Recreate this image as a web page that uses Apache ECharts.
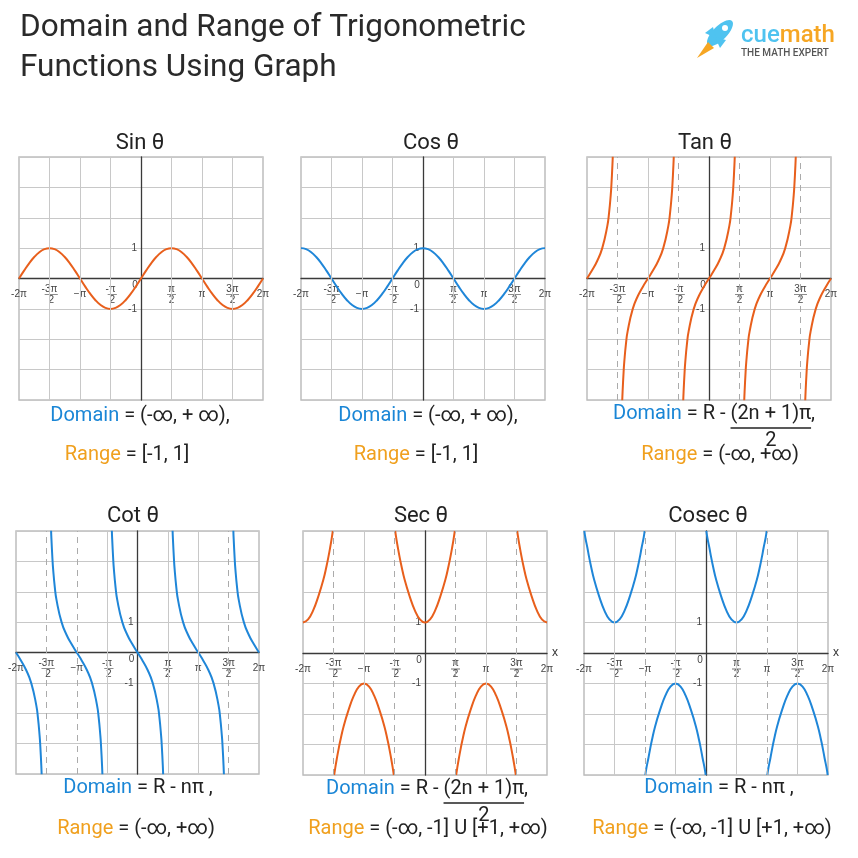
<!DOCTYPE html>
<html><head><meta charset="utf-8">
<script src="https://cdn.jsdelivr.net/npm/echarts@6/dist/echarts.min.js"></script>
<style>html,body{margin:0;padding:0;background:#fff}#c{width:858px;height:858px}</style>
</head><body><div id="c"></div><script>
// ---------- data ----------
const panelTitles = ['Sin θ', 'Cos θ', 'Tan θ', 'Cot θ', 'Sec θ', 'Cosec θ'];
const xTickValues = [-360, -270, -180, -90, 0, 90, 180, 270, 360];
const xTickLabels = ['-2π', '-3π/2', '−π', '-π/2', '0', 'π/2', 'π', '3π/2', '2π'];
const yTickValues = [1, -1];
const yTickLabels = ['1', '-1'];
const gridLineXs = [-270, -180, -90, 90, 180, 270];

const sinDashed = [];
const cosDashed = [];
const tanDashed = [-270, -90, 90, 270];
const cotDashed = [-270, -180, 270];
const secDashed = [-270, -90, 90, 270];
const cosecDashed = [-180, 180];

const angles = [-360,-345,-330,-315,-300,-285,-270,-255,-240,-225,-210,-195,-180,-165,-150,-135,-120,-105,-90,-75,-60,-45,-30,-15,0,15,30,45,60,75,90,105,120,135,150,165,180,195,210,225,240,255,270,285,300,315,330,345,360];
const sinValues = [0,0.259,0.5,0.707,0.866,0.966,1,0.966,0.866,0.707,0.5,0.259,0,-0.259,-0.5,-0.707,-0.866,-0.966,-1,-0.966,-0.866,-0.707,-0.5,-0.259,0,0.259,0.5,0.707,0.866,0.966,1,0.966,0.866,0.707,0.5,0.259,0,-0.259,-0.5,-0.707,-0.866,-0.966,-1,-0.966,-0.866,-0.707,-0.5,-0.259,0];
const cosValues = [1,0.966,0.866,0.707,0.5,0.259,0,-0.259,-0.5,-0.707,-0.866,-0.966,-1,-0.966,-0.866,-0.707,-0.5,-0.259,0,0.259,0.5,0.707,0.866,0.966,1,0.966,0.866,0.707,0.5,0.259,0,-0.259,-0.5,-0.707,-0.866,-0.966,-1,-0.966,-0.866,-0.707,-0.5,-0.259,0,0.259,0.5,0.707,0.866,0.966,1];

const tanX = [
  [-360,-345,-330,-315,-300,-295,-290,-288,-285,-284],
  [-256,-255,-252,-250,-245,-240,-225,-210,-195,-180,-165,-150,-135,-120,-115,-110,-108,-105,-104],
  [-76,-75,-72,-70,-65,-60,-45,-30,-15,0,15,30,45,60,65,70,72,75,76],
  [104,105,108,110,115,120,135,150,165,180,195,210,225,240,245,250,252,255,256],
  [284,285,288,290,295,300,315,330,345,360]
];
const tanY = [
  [0,0.268,0.577,1,1.732,2.145,2.747,3.078,3.732,4.011],
  [-4.011,-3.732,-3.078,-2.747,-2.145,-1.732,-1,-0.577,-0.268,0,0.268,0.577,1,1.732,2.145,2.747,3.078,3.732,4.011],
  [-4.011,-3.732,-3.078,-2.747,-2.145,-1.732,-1,-0.577,-0.268,0,0.268,0.577,1,1.732,2.145,2.747,3.078,3.732,4.011],
  [-4.011,-3.732,-3.078,-2.747,-2.145,-1.732,-1,-0.577,-0.268,0,0.268,0.577,1,1.732,2.145,2.747,3.078,3.732,4.011],
  [-4.011,-3.732,-3.078,-2.747,-2.145,-1.732,-1,-0.577,-0.268,0]
];
const cotX = [
  [-360,-345,-330,-315,-300,-295,-290,-288,-285,-284],
  [-256,-255,-252,-250,-245,-240,-225,-210,-195,-180,-165,-150,-135,-120,-115,-110,-108,-105,-104],
  [-76,-75,-72,-70,-65,-60,-45,-30,-15,0,15,30,45,60,65,70,72,75,76],
  [104,105,108,110,115,120,135,150,165,180,195,210,225,240,245,250,252,255,256],
  [284,285,288,290,295,300,315,330,345,360]
];
const cotY = [
  [0,-0.268,-0.577,-1,-1.732,-2.145,-2.747,-3.078,-3.732,-4.011],
  [4.011,3.732,3.078,2.747,2.145,1.732,1,0.577,0.268,0,-0.268,-0.577,-1,-1.732,-2.145,-2.747,-3.078,-3.732,-4.011],
  [4.011,3.732,3.078,2.747,2.145,1.732,1,0.577,0.268,0,-0.268,-0.577,-1,-1.732,-2.145,-2.747,-3.078,-3.732,-4.011],
  [4.011,3.732,3.078,2.747,2.145,1.732,1,0.577,0.268,0,-0.268,-0.577,-1,-1.732,-2.145,-2.747,-3.078,-3.732,-4.011],
  [4.011,3.732,3.078,2.747,2.145,1.732,1,0.577,0.268,0]
];
const secX = [
  [-360,-345,-330,-315,-300,-290,-285,-280,-275,-272],
  [-268,-265,-260,-255,-250,-240,-225,-210,-195,-180,-165,-150,-135,-120,-110,-105,-100,-95,-92],
  [-88,-85,-80,-75,-70,-60,-45,-30,-15,0,15,30,45,60,70,75,80,85,88],
  [92,95,100,105,110,120,135,150,165,180,195,210,225,240,250,255,260,265,268],
  [272,275,280,285,290,300,315,330,345,360]
];
const secY = [
  [1,1.1,1.4,1.85,2.4,2.88,3.15,3.45,3.78,4.0],
  [-4.0,-3.78,-3.45,-3.15,-2.88,-2.4,-1.85,-1.4,-1.1,-1,-1.1,-1.4,-1.85,-2.4,-2.88,-3.15,-3.45,-3.78,-4.0],
  [4.0,3.78,3.45,3.15,2.88,2.4,1.85,1.4,1.1,1,1.1,1.4,1.85,2.4,2.88,3.15,3.45,3.78,4.0],
  [-4.0,-3.78,-3.45,-3.15,-2.88,-2.4,-1.85,-1.4,-1.1,-1,-1.1,-1.4,-1.85,-2.4,-2.88,-3.15,-3.45,-3.78,-4.0],
  [4.0,3.78,3.45,3.15,2.88,2.4,1.85,1.4,1.1,1]
];
const cosecX = [
  [-359,-356,-350,-345,-340,-330,-315,-300,-285,-270,-255,-240,-225,-210,-200,-195,-190,-184,-181],
  [-179,-176,-170,-165,-160,-150,-135,-120,-105,-90,-75,-60,-45,-30,-20,-15,-10,-4,-1],
  [1,4,10,15,20,30,45,60,75,90,105,120,135,150,160,165,170,176,179],
  [181,184,190,195,200,210,225,240,255,270,285,300,315,330,340,345,350,356,359]
];
const cosecY = [
  [4.0,3.78,3.45,3.15,2.88,2.4,1.85,1.4,1.1,1,1.1,1.4,1.85,2.4,2.88,3.15,3.45,3.78,4.0],
  [-4.0,-3.78,-3.45,-3.15,-2.88,-2.4,-1.85,-1.4,-1.1,-1,-1.1,-1.4,-1.85,-2.4,-2.88,-3.15,-3.45,-3.78,-4.0],
  [4.0,3.78,3.45,3.15,2.88,2.4,1.85,1.4,1.1,1,1.1,1.4,1.85,2.4,2.88,3.15,3.45,3.78,4.0],
  [-4.0,-3.78,-3.45,-3.15,-2.88,-2.4,-1.85,-1.4,-1.1,-1,-1.1,-1.4,-1.85,-2.4,-2.88,-3.15,-3.45,-3.78,-4.0]
];

const domainPrefix = ['', '', 'R - ', 'R - nπ ,', 'R - ', 'R - nπ ,'];
const domainFrac = ['', '', '(2n + 1)π', '', '(2n + 1)π', ''];
const domainSuffix = ['(-∞, + ∞),', '(-∞, + ∞),', ',', '', ',', ''];
const rangeTexts = ['[-1, 1]', '[-1, 1]', '(-∞, +∞)', '(-∞, +∞)', '(-∞, -1] U [+1, +∞)', '(-∞, -1] U [+1, +∞)'];

// ---------- layout ----------
const ORANGE = '#e85f1c', BLUE = '#1f86d8';
const grids = [
  {left: 19, top: 157, width: 244, height: 243},
  {left: 301, top: 157, width: 244, height: 243},
  {left: 587, top: 157, width: 244, height: 243},
  {left: 16, top: 531, width: 243, height: 243},
  {left: 303, top: 531, width: 244, height: 244},
  {left: 584, top: 531, width: 244, height: 244}
];
const panels = [
  {xs: [angles], ys: [sinValues], color: ORANGE, dashed: sinDashed, xName: ''},
  {xs: [angles], ys: [cosValues], color: BLUE, dashed: cosDashed, xName: ''},
  {xs: tanX, ys: tanY, color: ORANGE, dashed: tanDashed, xName: ''},
  {xs: cotX, ys: cotY, color: BLUE, dashed: cotDashed, xName: ''},
  {xs: secX, ys: secY, color: ORANGE, dashed: secDashed, xName: 'x'},
  {xs: cosecX, ys: cosecY, color: BLUE, dashed: cosecDashed, xName: 'x'}
];
const titlePos = [[140,143],[431,143],[705,143],[133,516],[421,516],[708,516]];
const domainPos = [[140,416],[428,416],[714,414],[138,788],[427,789],[719,788]];
const rangePos = [[127,455],[416,455],[720,455],[136,829],[428,829],[712,829]];

const TICKFONT = 'Liberation Sans, Arial, sans-serif';
function xLabel(v) {
  const i = xTickValues.indexOf(v);
  if (i < 0) return '';
  const t = xTickLabels[i];
  if (t === '0') return '{o|0}';
  if (t.indexOf('/') >= 0) {
    const p = t.split('/');
    let num = p[0], neg = false;
    if (num.charAt(0) === '-') { neg = true; num = num.slice(1); }
    const hr = num.length > 1 ? 'hrA' : 'hrB';
    const sp = neg ? '{sp|}' : '';
    return (neg ? '{m|-}' : '') + '{n|' + num + '}\n' + sp + '{' + hr + '|}\n' + sp + '{d|' + p[1] + '}';
  }
  return '{s|' + t + '}';
}
function yLabel(v) {
  const i = yTickValues.indexOf(v);
  return i < 0 ? '' : yTickLabels[i];
}

const xAxes = [], yAxes = [], series = [];
panels.forEach((p, i) => {
  const g = grids[i];
  xAxes.push({
    gridIndex: i, type: 'value', min: -360, max: 360, interval: 90,
    name: p.xName, nameLocation: 'end', nameGap: 5,
    nameTextStyle: {fontSize: 12, color: '#333', fontFamily: TICKFONT, verticalAlign: 'middle', align: 'left'},
    axisLine: {onZero: true, lineStyle: {color: '#3a3a3a', width: 1.3}},
    axisTick: {show: false},
    splitLine: {show: false},
    axisLabel: {
      margin: -(g.height / 2 - 16), verticalAlign: 'middle', formatter: xLabel, showMinLabel: true, showMaxLabel: true,
      hideOverlap: false, color: '#444', fontFamily: TICKFONT, fontSize: 10,
      rich: {
        s: {fontSize: 10, color: '#444', fontFamily: TICKFONT},
        m: {fontSize: 10, lineHeight: 11, color: '#444', fontFamily: TICKFONT},
        n: {fontSize: 10, lineHeight: 11, color: '#444', fontFamily: TICKFONT},
        d: {fontSize: 10, lineHeight: 11, color: '#444', fontFamily: TICKFONT},
        sp: {width: 3.5, height: 0},
        hrA: {width: 13, height: 0, borderColor: '#777', borderWidth: 0.6},
        hrB: {width: 9, height: 0, borderColor: '#777', borderWidth: 0.6},
        o: {fontSize: 10, color: '#444', fontFamily: TICKFONT, padding: [0, 12, 18, 0]}
      }
    }
  });
  yAxes.push({
    gridIndex: i, type: 'value', min: -4, max: 4, interval: 1,
    axisLine: {onZero: true, lineStyle: {color: '#3a3a3a', width: 1.3}},
    axisTick: {show: false},
    splitLine: {show: true, lineStyle: {color: '#c8c8c8', width: 1}},
    axisLabel: {margin: -(g.width / 2 - 4), formatter: yLabel, color: '#444', fontFamily: TICKFONT, fontSize: 10}
  });
  series.push({
    type: 'line', xAxisIndex: i, yAxisIndex: i, data: [], silent: true, z: 1, animation: false,
    markLine: {
      silent: true, symbol: ['none', 'none'], label: {show: false}, animation: false,
      lineStyle: {color: '#c8c8c8', width: 1, type: 'solid'},
      emphasis: {disabled: true},
      data: gridLineXs.map(x => ({
        xAxis: x,
        lineStyle: p.dashed.indexOf(x) >= 0
          ? {type: [6, 5], color: '#ababab', width: 1}
          : {type: 'solid', color: '#c8c8c8', width: 1}
      }))
    }
  });
  p.xs.forEach((xs, b) => {
    series.push({
      type: 'line', xAxisIndex: i, yAxisIndex: i, z: 3, animation: false, silent: true,
      showSymbol: false, smooth: true, clip: true,
      lineStyle: {color: p.color, width: 2},
      data: xs.map((x, j) => [x, p.ys[b][j]])
    });
  });
});

// ---------- graphics (titles, texts, logo) ----------
const TITLEFONT = 'Roboto, "Open Sans", sans-serif';
const TEXTFONT = 'Roboto, sans-serif';
const TEXTSIZE = 20;
const ctx = document.createElement('canvas').getContext('2d');
ctx.font = TEXTSIZE + 'px Roboto';
const tw = s => ctx.measureText(s).width;

const graphic = [];
graphic.push({type: 'text', left: 20, top: 12, style: {text: 'Domain and Range of Trigonometric', fontSize: 31.5, fontFamily: TITLEFONT, fill: '#2a2a2a'}});
graphic.push({type: 'text', left: 20, top: 52, style: {text: 'Functions Using Graph', fontSize: 31.5, fontFamily: TITLEFONT, fill: '#2a2a2a'}});
panelTitles.forEach((t, i) => {
  graphic.push({type: 'text', x: titlePos[i][0], y: titlePos[i][1],
    style: {text: t, fontSize: 22, fontFamily: TITLEFONT, fill: '#222', align: 'center', verticalAlign: 'middle'}});
  const plain = 'Domain = ' + domainPrefix[i] + domainFrac[i] + domainSuffix[i];
  graphic.push({type: 'text', x: domainPos[i][0], y: domainPos[i][1],
    style: {text: '{b|Domain} = ' + domainPrefix[i] + domainFrac[i] + domainSuffix[i], fontSize: TEXTSIZE, fontFamily: TEXTFONT, fill: '#222',
      align: 'center', verticalAlign: 'middle',
      rich: {b: {fill: '#1a86d6', fontSize: TEXTSIZE, fontFamily: TEXTFONT}}}});
  if (domainFrac[i]) {
    const start = domainPos[i][0] - tw(plain) / 2 + tw('Domain = ' + domainPrefix[i]);
    const w = tw(domainFrac[i]);
    const yb = domainPos[i][1] + 14;
    graphic.push({type: 'line', shape: {x1: start, y1: yb, x2: start + w, y2: yb}, style: {stroke: '#222', lineWidth: 1.5}});
    graphic.push({type: 'text', x: start + w / 2, y: yb + 13, style: {text: '2', fontSize: TEXTSIZE, fontFamily: TEXTFONT, fill: '#222', align: 'center', verticalAlign: 'middle'}});
  }
  graphic.push({type: 'text', x: rangePos[i][0], y: rangePos[i][1],
    style: {text: '{o|Range} = ' + rangeTexts[i], fontSize: TEXTSIZE, fontFamily: TEXTFONT, fill: '#222',
      align: 'center', verticalAlign: 'middle',
      rich: {o: {fill: '#f0a01e', fontSize: TEXTSIZE, fontFamily: TEXTFONT}}}});
});
// logo
graphic.push({type: 'ellipse', shape: {cx: 0, cy: 0, rx: 7, ry: 17}, x: 720, y: 33, rotation: -Math.PI / 4, style: {fill: '#4fc3f0'}});
graphic.push({type: 'polygon', shape: {points: [[705, 33], [713, 27], [716, 38]]}, style: {fill: '#4fc3f0'}});
graphic.push({type: 'polygon', shape: {points: [[720, 48], [726, 40], [715, 37]]}, style: {fill: '#4fc3f0'}});
graphic.push({type: 'circle', shape: {cx: 725, cy: 28, r: 3}, style: {fill: '#fff'}});
graphic.push({type: 'polygon', shape: {points: [[708, 42], [697, 58], [714, 48]]}, style: {fill: '#f6a623'}});
graphic.push({type: 'text', x: 741, y: 36, style: {text: '{c|cue}{m|math}', verticalAlign: 'middle',
  rich: {c: {fill: '#4fc3f0', fontSize: 24, fontWeight: 500, fontFamily: TITLEFONT}, m: {fill: '#f6a623', fontSize: 24, fontWeight: 500, fontFamily: TITLEFONT}}}});
graphic.push({type: 'text', x: 741, y: 53, style: {text: 'THE MATH EXPERT', fontSize: 10, fontWeight: 500, fontFamily: TITLEFONT, fill: '#555', verticalAlign: 'middle'}});

const chart = echarts.init(document.getElementById('c'), null, {renderer: 'canvas'});
chart.setOption({
  animation: false,
  backgroundColor: '#fff',
  grid: grids.map(g => Object.assign({show: true, borderColor: '#bdbdbd', borderWidth: 1.5, backgroundColor: 'transparent'}, g)),
  xAxis: xAxes,
  yAxis: yAxes,
  series: series,
  graphic: graphic
});
</script></body></html>
